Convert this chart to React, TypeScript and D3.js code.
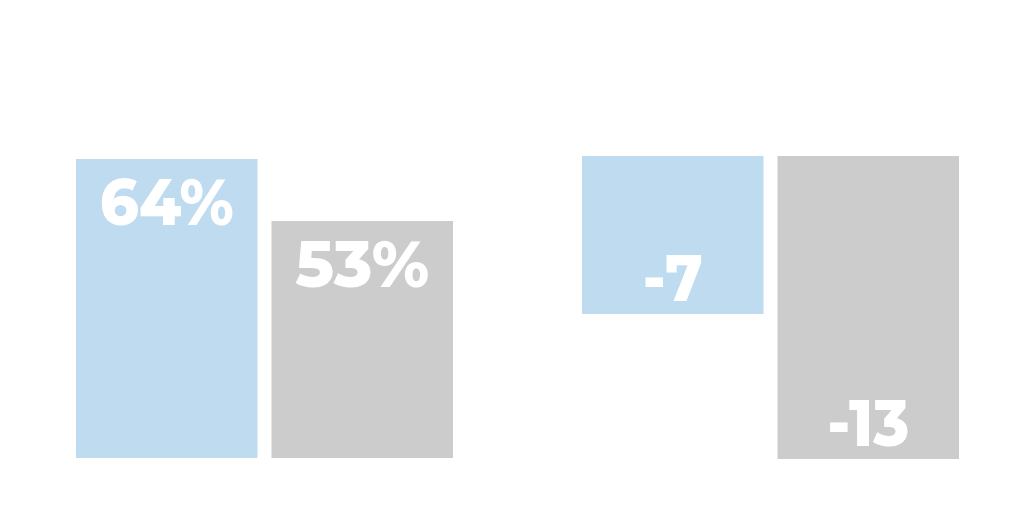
import React from "react";
import * as d3 from "d3";

const groups = ["share", "change"];
const series = ["blue", "gray"];
const shareValues = [64, 53];
const changeValues = [-7, -13];
const shareLabels = ["64%", "53%"];
const changeLabels = ["-7", "-13"];
const colors = ["#BEDBF0", "#CCCCCC"];

const W = 1024;
const H = 512;

export default function App() {
  const outer = d3.scaleBand<string>().domain(groups).range([76, 959]).paddingInner(0.255).paddingOuter(0);
  const inner = d3.scaleBand<string>().domain(series).range([0, outer.bandwidth()]).paddingInner(0.0716);

  // left panel: positive values, bars grow up from baseline
  const yLeft = d3.scaleLinear().domain([53, 64]).range([221, 159]);
  const leftBase = 458;
  // right panel: negative values, bars hang from top
  const yRight = d3.scaleLinear().domain([-7, -13]).range([314, 459]);
  const rightTop = 156;

  const font = "Montserrat, 'Open Sans', sans-serif";

  return (
    <svg width={W} height={H} style={{ position: "absolute", left: 0, top: 0, background: "#fff" }}>
      <g transform={`translate(${outer("share")},0)`}>
        {shareValues.map((v, i) => {
          const x = inner(series[i])!;
          const y = yLeft(v);
          return (
            <g key={i}>
              <rect x={x} y={y} width={inner.bandwidth()} height={leftBase - y} fill={colors[i]} />
              <text
                x={x + inner.bandwidth() / 2}
                y={y + 66}
                textAnchor="middle"
                fill="#fff"
                fontFamily={font}
                fontWeight={800}
                fontSize={66}
                textLength={shareLabels[i].length === 3 ? 134 : 134}
                lengthAdjust="spacingAndGlyphs"
              >
                {shareLabels[i]}
              </text>
            </g>
          );
        })}
      </g>
      <g transform={`translate(${outer("change")},0)`}>
        {changeValues.map((v, i) => {
          const x = inner(series[i])!;
          const yb = yRight(v);
          return (
            <g key={i}>
              <rect x={x} y={rightTop} width={inner.bandwidth()} height={yb - rightTop} fill={colors[i]} />
              <text
                x={x + inner.bandwidth() / 2}
                y={yb - 13}
                textAnchor="middle"
                fill="#fff"
                fontFamily={font}
                fontWeight={800}
                fontSize={66}
                textLength={changeLabels[i].length === 2 ? 60 : 82}
                lengthAdjust="spacingAndGlyphs"
              >
                {changeLabels[i]}
              </text>
            </g>
          );
        })}
      </g>
    </svg>
  );
}
